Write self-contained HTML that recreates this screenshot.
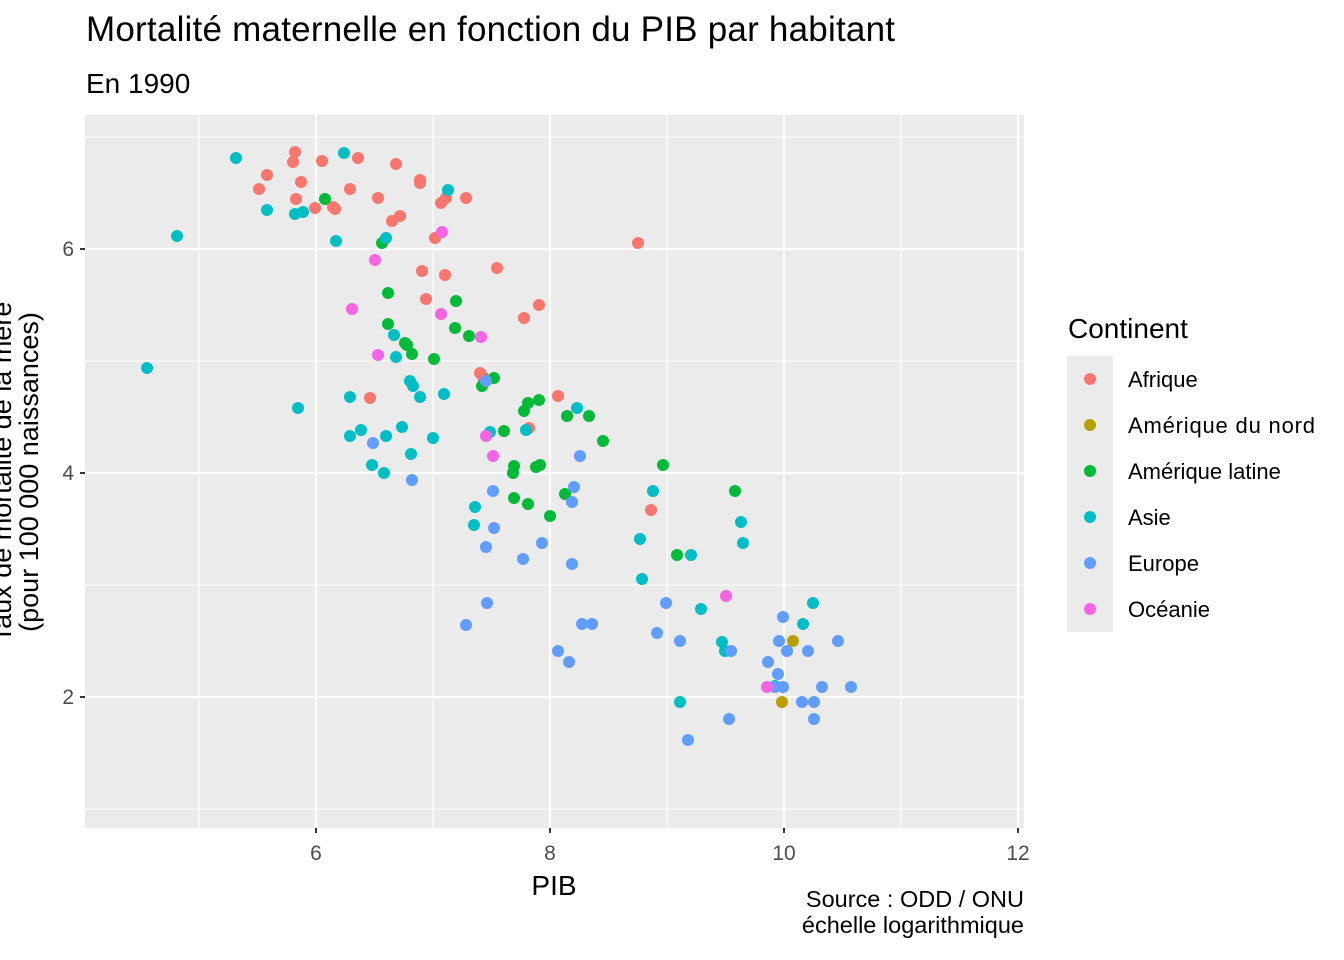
<!DOCTYPE html>
<html><head><meta charset="utf-8"><style>body{margin:0;background:#fff}svg{display:block}</style></head>
<body>
<svg width="1344" height="960" xmlns="http://www.w3.org/2000/svg" font-family="Liberation Sans, sans-serif">
<rect width="1344" height="960" fill="#fff"/>
<text x="86" y="41" font-size="35" fill="#000" textLength="809">Mortalité maternelle en fonction du PIB par habitant</text>
<text x="86" y="93" font-size="28" fill="#000">En 1990</text>
<rect x="85" y="115" width="939" height="713" fill="#EBEBEB"/>
<g stroke="#fff" stroke-width="1.1">
<line x1="199" y1="115" x2="199" y2="828"/><line x1="433" y1="115" x2="433" y2="828"/><line x1="667" y1="115" x2="667" y2="828"/><line x1="901" y1="115" x2="901" y2="828"/>
<line x1="85" y1="137" x2="1024" y2="137"/><line x1="85" y1="361" x2="1024" y2="361"/><line x1="85" y1="585" x2="1024" y2="585"/><line x1="85" y1="809" x2="1024" y2="809"/>
</g>
<g stroke="#fff" stroke-width="2.2">
<line x1="316" y1="115" x2="316" y2="828"/><line x1="550" y1="115" x2="550" y2="828"/><line x1="784" y1="115" x2="784" y2="828"/><line x1="1018" y1="115" x2="1018" y2="828"/>
<line x1="85" y1="249" x2="1024" y2="249"/><line x1="85" y1="473" x2="1024" y2="473"/><line x1="85" y1="697" x2="1024" y2="697"/>
</g>
<g stroke="#333" stroke-width="2">
<line x1="316" y1="828" x2="316" y2="833"/><line x1="550" y1="828" x2="550" y2="833"/><line x1="784" y1="828" x2="784" y2="833"/><line x1="1018" y1="828" x2="1018" y2="833"/>
<line x1="80" y1="249" x2="85" y2="249"/><line x1="80" y1="473" x2="85" y2="473"/><line x1="80" y1="697" x2="85" y2="697"/>
</g>
<g font-size="21" fill="#4D4D4D">
<text x="316" y="860" text-anchor="middle">6</text><text x="550" y="860" text-anchor="middle">8</text><text x="784" y="860" text-anchor="middle">10</text><text x="1018" y="860" text-anchor="middle">12</text>
<text x="74" y="256" text-anchor="end">6</text><text x="74" y="480" text-anchor="end">4</text><text x="74" y="704" text-anchor="end">2</text>
</g>
<text x="554" y="895" font-size="28" text-anchor="middle">PIB</text>
<g transform="translate(11,472) rotate(-90)" font-size="27" text-anchor="middle">
<text x="0" y="0">Taux de mortalité de la mère</text>
<text x="0" y="27">(pour 100 000 naissances)</text>
</g>
<text x="1024" y="907" font-size="23.5" text-anchor="end">Source : ODD / ONU</text>
<text x="1024" y="933" font-size="23.5" text-anchor="end">échelle logarithmique</text>
<g fill="#F8766D">
<circle cx="295" cy="152" r="6"/><circle cx="293" cy="162" r="6"/><circle cx="322" cy="161" r="6"/><circle cx="358" cy="158" r="6"/><circle cx="396" cy="164" r="6"/><circle cx="267" cy="175" r="6"/><circle cx="301" cy="182" r="6"/><circle cx="259" cy="189" r="6"/><circle cx="350" cy="189" r="6"/><circle cx="420" cy="180" r="6"/><circle cx="420" cy="183" r="6"/><circle cx="296" cy="199" r="6"/><circle cx="378" cy="198" r="6"/><circle cx="446" cy="198" r="6"/><circle cx="466" cy="198" r="6"/><circle cx="315" cy="208" r="6"/><circle cx="335" cy="209" r="6"/><circle cx="333" cy="207" r="6"/><circle cx="441" cy="203" r="6"/><circle cx="400" cy="216" r="6"/><circle cx="392" cy="221" r="6"/><circle cx="435" cy="238" r="6"/><circle cx="638" cy="243" r="6"/><circle cx="422" cy="271" r="6"/><circle cx="445" cy="275" r="6"/><circle cx="497" cy="268" r="6"/><circle cx="426" cy="299" r="6"/><circle cx="539" cy="305" r="6"/><circle cx="524" cy="318" r="6"/><circle cx="480" cy="373" r="6"/><circle cx="370" cy="398" r="6"/><circle cx="558" cy="396" r="6"/><circle cx="529" cy="428" r="6"/><circle cx="651" cy="510" r="6"/><circle cx="483" cy="377" r="6"/>
</g>
<g fill="#B79F00"><circle cx="793" cy="641" r="6"/><circle cx="782" cy="702" r="6"/></g>
<g fill="#00BA38">
<circle cx="325" cy="199" r="6"/><circle cx="382" cy="243" r="6"/><circle cx="388" cy="293" r="6"/><circle cx="456" cy="301" r="6"/><circle cx="388" cy="324" r="6"/><circle cx="455" cy="328" r="6"/><circle cx="469" cy="336" r="6"/><circle cx="405" cy="343" r="6"/><circle cx="407" cy="345" r="6"/><circle cx="412" cy="354" r="6"/><circle cx="434" cy="359" r="6"/><circle cx="494" cy="378" r="6"/><circle cx="482" cy="386" r="6"/><circle cx="528" cy="403" r="6"/><circle cx="539" cy="400" r="6"/><circle cx="524" cy="411" r="6"/><circle cx="567" cy="416" r="6"/><circle cx="589" cy="416" r="6"/><circle cx="504" cy="431" r="6"/><circle cx="603" cy="441" r="6"/><circle cx="514" cy="466" r="6"/><circle cx="513" cy="473" r="6"/><circle cx="663" cy="465" r="6"/><circle cx="540" cy="465" r="6"/><circle cx="536" cy="467" r="6"/><circle cx="514" cy="498" r="6"/><circle cx="528" cy="504" r="6"/><circle cx="550" cy="516" r="6"/><circle cx="565" cy="494" r="6"/><circle cx="735" cy="491" r="6"/><circle cx="677" cy="555" r="6"/>
</g>
<g fill="#00BFC4">
<circle cx="236" cy="158" r="6"/><circle cx="344" cy="153" r="6"/><circle cx="448" cy="190" r="6"/><circle cx="267" cy="210" r="6"/><circle cx="295" cy="214" r="6"/><circle cx="303" cy="212" r="6"/><circle cx="177" cy="236" r="6"/><circle cx="336" cy="241" r="6"/><circle cx="386" cy="238" r="6"/><circle cx="147" cy="368" r="6"/><circle cx="394" cy="335" r="6"/><circle cx="396" cy="357" r="6"/><circle cx="410" cy="381" r="6"/><circle cx="413" cy="386" r="6"/><circle cx="420" cy="397" r="6"/><circle cx="444" cy="394" r="6"/><circle cx="350" cy="397" r="6"/><circle cx="298" cy="408" r="6"/><circle cx="361" cy="430" r="6"/><circle cx="350" cy="436" r="6"/><circle cx="386" cy="436" r="6"/><circle cx="402" cy="427" r="6"/><circle cx="433" cy="438" r="6"/><circle cx="411" cy="454" r="6"/><circle cx="372" cy="465" r="6"/><circle cx="384" cy="473" r="6"/><circle cx="490" cy="432" r="6"/><circle cx="577" cy="408" r="6"/><circle cx="526" cy="430" r="6"/><circle cx="475" cy="507" r="6"/><circle cx="474" cy="525" r="6"/><circle cx="653" cy="491" r="6"/><circle cx="741" cy="522" r="6"/><circle cx="743" cy="543" r="6"/><circle cx="640" cy="539" r="6"/><circle cx="691" cy="555" r="6"/><circle cx="642" cy="579" r="6"/><circle cx="701" cy="609" r="6"/><circle cx="722" cy="642" r="6"/><circle cx="725" cy="651" r="6"/><circle cx="680" cy="702" r="6"/><circle cx="775" cy="686" r="6"/><circle cx="813" cy="603" r="6"/><circle cx="803" cy="624" r="6"/>
</g>
<g fill="#619CFF">
<circle cx="486" cy="381" r="6"/><circle cx="373" cy="443" r="6"/><circle cx="580" cy="456" r="6"/><circle cx="412" cy="480" r="6"/><circle cx="493" cy="491" r="6"/><circle cx="574" cy="487" r="6"/><circle cx="572" cy="502" r="6"/><circle cx="494" cy="528" r="6"/><circle cx="486" cy="547" r="6"/><circle cx="542" cy="543" r="6"/><circle cx="523" cy="559" r="6"/><circle cx="572" cy="564" r="6"/><circle cx="487" cy="603" r="6"/><circle cx="466" cy="625" r="6"/><circle cx="582" cy="624" r="6"/><circle cx="592" cy="624" r="6"/><circle cx="666" cy="603" r="6"/><circle cx="657" cy="633" r="6"/><circle cx="680" cy="641" r="6"/><circle cx="558" cy="651" r="6"/><circle cx="569" cy="662" r="6"/><circle cx="731" cy="651" r="6"/><circle cx="783" cy="617" r="6"/><circle cx="779" cy="641" r="6"/><circle cx="787" cy="651" r="6"/><circle cx="808" cy="651" r="6"/><circle cx="838" cy="641" r="6"/><circle cx="768" cy="662" r="6"/><circle cx="778" cy="674" r="6"/><circle cx="775" cy="687" r="6"/><circle cx="783" cy="687" r="6"/><circle cx="822" cy="687" r="6"/><circle cx="851" cy="687" r="6"/><circle cx="802" cy="702" r="6"/><circle cx="814" cy="702" r="6"/><circle cx="729" cy="719" r="6"/><circle cx="814" cy="719" r="6"/><circle cx="688" cy="740" r="6"/>
</g>
<g fill="#F564E3">
<circle cx="442" cy="232" r="6"/><circle cx="375" cy="260" r="6"/><circle cx="352" cy="309" r="6"/><circle cx="441" cy="314" r="6"/><circle cx="481" cy="337" r="6"/><circle cx="378" cy="355" r="6"/><circle cx="486" cy="436" r="6"/><circle cx="493" cy="456" r="6"/><circle cx="726" cy="596" r="6"/><circle cx="767" cy="687" r="6"/>
</g>
<text x="1068" y="338" font-size="28">Continent</text>
<rect x="1067" y="356" width="46" height="276" fill="#EBEBEB"/>
<g>
<circle cx="1090" cy="379" r="6" fill="#F8766D"/><circle cx="1090" cy="425" r="6" fill="#B79F00"/><circle cx="1090" cy="471" r="6" fill="#00BA38"/><circle cx="1090" cy="517" r="6" fill="#00BFC4"/><circle cx="1090" cy="563" r="6" fill="#619CFF"/><circle cx="1090" cy="609" r="6" fill="#F564E3"/>
</g>
<g font-size="22">
<text x="1128" y="387">Afrique</text><text x="1128" y="433" textLength="187">Amérique du nord</text><text x="1128" y="479">Amérique latine</text><text x="1128" y="525">Asie</text><text x="1128" y="571">Europe</text><text x="1128" y="617">Océanie</text>
</g>
</svg>
</body></html>
